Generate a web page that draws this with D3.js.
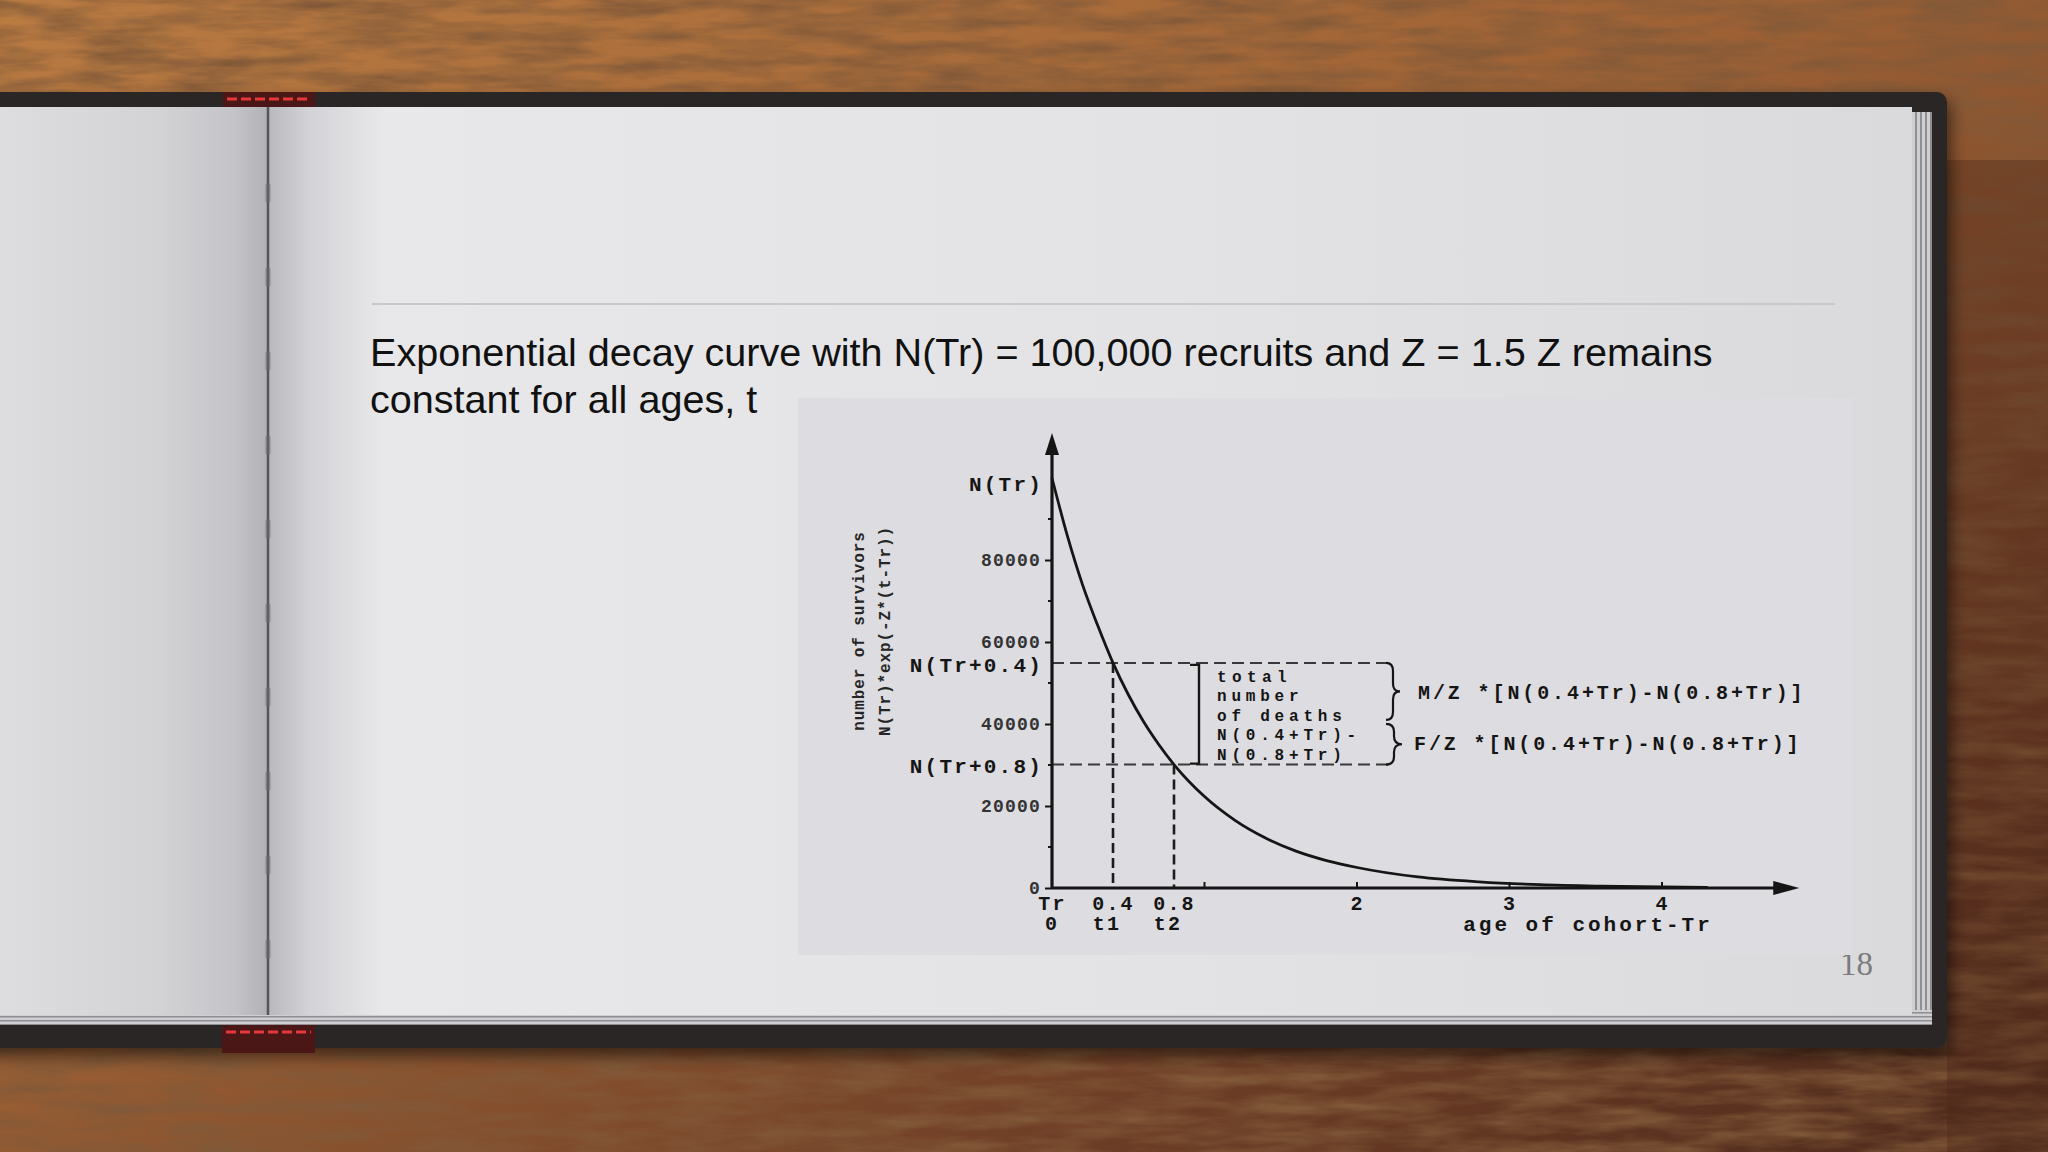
<!DOCTYPE html>
<html>
<head>
<meta charset="utf-8">
<script src="https://cdn.jsdelivr.net/npm/d3@7"></script>
<style>
  body { margin: 0; background: #6a4028; }
  svg { display: block; }
</style>
</head>
<body>
<script>
// Slide text
var titleLines = [
  "Exponential decay curve with N(Tr) = 100,000 recruits and Z = 1.5 Z remains",
  "constant for all ages, t"
];
var pageNumber = "18";

// Survivors curve, values
var ages = [0, 0.1, 0.2, 0.3, 0.4, 0.5, 0.6, 0.7, 0.8, 1.0, 1.2, 1.4, 1.6, 1.8, 2.0, 2.4, 2.8, 3.2, 3.6, 4.0, 4.3];
var survivors = [100000, 86000, 74000, 64000, 54900, 47200, 40600, 35000, 30100, 22300, 16500, 12200, 9000, 6700, 5000, 2700, 1500, 800, 450, 250, 170];

// Axis ticks
var yTickValues = [0, 20000, 40000, 60000, 80000];
var yMinorTicks = [10000, 30000, 50000, 70000, 90000];
var levelLabels = ["N(Tr)", "N(Tr+0.4)", "N(Tr+0.8)"];
var levelValues = [100000, 54900, 30100];
var xTickValues = [0, 0.4, 0.8, 2, 3, 4];
var xTickLabels = ["Tr", "0.4", "0.8", "2", "3", "4"];
var xSubLabels = ["0", "t1", "t2", "", "", ""];
var xMinorTicks = [1];
var cutAges = [0.4, 0.8];

// Annotation text
var yTitle = ["number of survivors", "N(Tr)*exp(-Z*(t-Tr))"];
var xTitle = "age of cohort-Tr";
var deathNotes = ["total", "number", "of deaths", "N(0.4+Tr)-", "N(0.8+Tr)"];
var partNotes = ["M/Z *[N(0.4+Tr)-N(0.8+Tr)]", "F/Z *[N(0.4+Tr)-N(0.8+Tr)]"];

var width = 2048, height = 1152;

var svg = d3.select("body").append("svg")
  .attr("width", width)
  .attr("height", height);

var defs = svg.append("defs");

// wood
var wood = defs.append("linearGradient").attr("id", "wood")
  .attr("x1", 0).attr("y1", 0).attr("x2", 1).attr("y2", 1);
wood.append("stop").attr("offset", "0%").attr("stop-color", "#bb7c42");
wood.append("stop").attr("offset", "45%").attr("stop-color", "#9c6034");
wood.append("stop").attr("offset", "75%").attr("stop-color", "#6e3e26");
wood.append("stop").attr("offset", "100%").attr("stop-color", "#4e2a1c");

var grain = defs.append("filter").attr("id", "grain")
  .attr("x", 0).attr("y", 0).attr("width", 1).attr("height", 1);
grain.append("feTurbulence")
  .attr("type", "fractalNoise")
  .attr("baseFrequency", "0.012 0.07")
  .attr("numOctaves", 4)
  .attr("seed", 7);
grain.append("feColorMatrix")
  .attr("type", "matrix")
  .attr("values", "0 0 0 0 0.22  0 0 0 0 0.10  0 0 0 0 0.04  0 0 0 -1.8 1.25");

var shadow = defs.append("filter").attr("id", "shadow")
  .attr("x", -0.05).attr("y", -0.05).attr("width", 1.1).attr("height", 1.15);
shadow.append("feDropShadow")
  .attr("dx", 4).attr("dy", 8).attr("stdDeviation", 8)
  .attr("flood-color", "#000").attr("flood-opacity", 0.55);

var leftPage = defs.append("linearGradient").attr("id", "leftPage");
leftPage.append("stop").attr("offset", "0%").attr("stop-color", "#dedee1");
leftPage.append("stop").attr("offset", "60%").attr("stop-color", "#d3d3d6");
leftPage.append("stop").attr("offset", "88%").attr("stop-color", "#c4c4c8");
leftPage.append("stop").attr("offset", "100%").attr("stop-color", "#b0b0b5");

var rightPage = defs.append("linearGradient").attr("id", "rightPage");
rightPage.append("stop").attr("offset", "0%").attr("stop-color", "#b8b8bd");
rightPage.append("stop").attr("offset", "2.5%").attr("stop-color", "#d3d3d7");
rightPage.append("stop").attr("offset", "7%").attr("stop-color", "#e8e8ea");
rightPage.append("stop").attr("offset", "55%").attr("stop-color", "#e3e3e5");
rightPage.append("stop").attr("offset", "100%").attr("stop-color", "#dadadd");

var edge = defs.append("pattern").attr("id", "edgeV")
  .attr("width", 5).attr("height", 10).attr("patternUnits", "userSpaceOnUse");
edge.append("rect").attr("width", 5).attr("height", 10).attr("fill", "#cfcfd2");
edge.append("rect").attr("width", 2).attr("height", 10).attr("fill", "#8e8e93");

var edgeH = defs.append("pattern").attr("id", "edgeH")
  .attr("width", 10).attr("height", 4).attr("patternUnits", "userSpaceOnUse");
edgeH.append("rect").attr("width", 10).attr("height", 4).attr("fill", "#cfcfd2");
edgeH.append("rect").attr("width", 10).attr("height", 1.5).attr("fill", "#8e8e93");

// background wood
svg.append("rect").attr("width", width).attr("height", height).attr("fill", "url(#wood)");
svg.append("rect").attr("width", width).attr("height", height).attr("filter", "url(#grain)");
svg.append("rect").attr("x", 1947).attr("y", 160).attr("width", 101).attr("height", 992)
  .attr("fill", "#4a2618").attr("opacity", 0.35);

// book cover
svg.append("rect")
  .attr("x", -20).attr("y", 92).attr("width", 1967).attr("height", 956)
  .attr("rx", 10)
  .attr("fill", "#2b2725")
  .attr("filter", "url(#shadow)");

// ribbons
[[223, 92, 92, 16], [222, 1025, 93, 28]].forEach(function (r) {
  svg.append("rect").attr("x", r[0]).attr("y", r[1]).attr("width", r[2]).attr("height", r[3])
    .attr("fill", "#4a1616");
  svg.append("line")
    .attr("x1", r[0] + 4).attr("x2", r[0] + r[2] - 4)
    .attr("y1", r[1] + 7).attr("y2", r[1] + 7)
    .attr("stroke", "#e8383a").attr("stroke-width", 3)
    .attr("stroke-dasharray", "10 4");
});

// page stack edges
svg.append("rect").attr("x", 1905).attr("y", 112).attr("width", 27).attr("height", 913)
  .attr("fill", "url(#edgeV)");
svg.append("rect").attr("x", -10).attr("y", 1010).attr("width", 1942).attr("height", 15)
  .attr("fill", "url(#edgeH)");

// pages
svg.append("rect").attr("x", -10).attr("y", 107).attr("width", 278).attr("height", 908)
  .attr("fill", "url(#leftPage)");
svg.append("rect").attr("x", 268).attr("y", 107).attr("width", 1644).attr("height", 908)
  .attr("fill", "url(#rightPage)");
svg.append("line").attr("x1", 268).attr("x2", 268).attr("y1", 107).attr("y2", 1015)
  .attr("stroke", "#56565b").attr("stroke-width", 2.5);
d3.range(183, 1000, 84).forEach(function (sy) {
  svg.append("rect").attr("x", 265.5).attr("y", sy).attr("width", 5).attr("height", 20)
    .attr("rx", 2.5).attr("fill", "#6b6b70").attr("opacity", 0.55);
});

// title
svg.append("line")
  .attr("x1", 372).attr("x2", 1835).attr("y1", 304).attr("y2", 304)
  .attr("stroke", "#c8c8cb").attr("stroke-width", 2);

svg.append("g").selectAll("text")
  .data(titleLines)
  .enter().append("text")
  .attr("x", 370)
  .attr("y", function (d, i) { return 366 + i * 47; })
  .attr("font-family", "'Liberation Sans', Arial, sans-serif")
  .attr("font-size", 39.6)
  .attr("fill", "#111")
  .text(function (d) { return d; });

svg.append("text")
  .attr("x", 1840).attr("y", 975)
  .attr("font-family", "'Liberation Serif', 'DejaVu Serif', serif")
  .attr("font-size", 33)
  .attr("fill", "#7b7b7e")
  .text(pageNumber);

// scanned figure panel
svg.append("rect")
  .attr("x", 798).attr("y", 398).attr("width", 1054).attr("height", 557)
  .attr("fill", "#dddce0");

var mono = "'Liberation Mono', 'DejaVu Sans Mono', monospace";
var ink = "#151515";

var x = d3.scaleLinear().domain([0, 4]).range([1052, 1662]);
var y = d3.scaleLinear().domain([0, 100000]).range([888, 478]);

var fig = svg.append("g");

// dashed guides
fig.selectAll(".hguide")
  .data(levelValues.slice(1))
  .enter().append("line")
  .attr("class", "hguide")
  .attr("x1", x(0)).attr("x2", 1388)
  .attr("y1", function (d) { return y(d); })
  .attr("y2", function (d) { return y(d); })
  .attr("stroke", "#3a3a3a").attr("stroke-width", 2)
  .attr("stroke-dasharray", "12 6");

fig.selectAll(".vguide")
  .data(cutAges)
  .enter().append("line")
  .attr("class", "vguide")
  .attr("x1", function (d) { return x(d); })
  .attr("x2", function (d) { return x(d); })
  .attr("y1", function (d, i) { return y(levelValues[i + 1]); })
  .attr("y2", y(0))
  .attr("stroke", "#1c1c1c").attr("stroke-width", 2.6)
  .attr("stroke-dasharray", "10 5");

// y axis
var yAxis = d3.axisLeft(y)
  .tickValues(yTickValues)
  .tickSize(7)
  .tickPadding(4)
  .tickFormat(function (d) { return String(d); });

var yG = fig.append("g")
  .attr("transform", "translate(" + x(0) + ",0)")
  .call(yAxis);
yG.select(".domain").remove();
yG.selectAll("line").attr("stroke", ink).attr("stroke-width", 2);
yG.selectAll("text")
  .attr("font-family", mono)
  .attr("font-size", 18)
  .attr("font-weight", "bold")
  .attr("letter-spacing", 1.2)
  .attr("fill", "#333");

fig.selectAll(".yminor")
  .data(yMinorTicks)
  .enter().append("line")
  .attr("class", "yminor")
  .attr("x1", x(0) - 4).attr("x2", x(0))
  .attr("y1", function (d) { return y(d); })
  .attr("y2", function (d) { return y(d); })
  .attr("stroke", ink).attr("stroke-width", 2);

fig.selectAll(".level")
  .data(levelLabels)
  .enter().append("text")
  .attr("class", "level")
  .attr("x", x(0) - 9)
  .attr("y", function (d, i) { return y(levelValues[i]) + (i === 0 ? 6 : 2); })
  .attr("dy", "0.32em")
  .attr("text-anchor", "end")
  .attr("font-family", mono)
  .attr("font-size", 21)
  .attr("font-weight", "bold")
  .attr("letter-spacing", 2.2)
  .attr("fill", ink)
  .text(function (d) { return d; });

// x axis
var xAxis = d3.axisBottom(x)
  .tickValues(xTickValues)
  .tickSize(0)
  .tickPadding(8)
  .tickFormat(function (d, i) { return xTickLabels[i]; });

var xG = fig.append("g")
  .attr("transform", "translate(0," + y(0) + ")")
  .call(xAxis);
xG.select(".domain").remove();
xG.selectAll("text")
  .attr("font-family", mono)
  .attr("font-size", 20)
  .attr("font-weight", "bold")
  .attr("letter-spacing", 2.2)
  .attr("fill", ink);

fig.selectAll(".xsub")
  .data(xSubLabels)
  .enter().append("text")
  .attr("class", "xsub")
  .attr("x", function (d, i) { return x(xTickValues[i]) + (i === 0 ? 0 : -6); })
  .attr("y", y(0) + 28)
  .attr("dy", "0.71em")
  .attr("text-anchor", "middle")
  .attr("font-family", mono)
  .attr("font-size", 20)
  .attr("font-weight", "bold")
  .attr("letter-spacing", 2.2)
  .attr("fill", ink)
  .text(function (d) { return d; });

fig.selectAll(".xminor")
  .data(xMinorTicks.concat(xTickValues.slice(3)))
  .enter().append("line")
  .attr("class", "xminor")
  .attr("x1", function (d) { return x(d); })
  .attr("x2", function (d) { return x(d); })
  .attr("y1", y(0)).attr("y2", y(0) - 6)
  .attr("stroke", ink).attr("stroke-width", 2);

fig.append("text")
  .attr("x", 1588).attr("y", y(0) + 28)
  .attr("dy", "0.71em")
  .attr("text-anchor", "middle")
  .attr("font-family", mono)
  .attr("font-size", 21)
  .attr("font-weight", "bold")
  .attr("letter-spacing", 3)
  .attr("fill", ink)
  .text(xTitle);

// axis lines with arrows
var yTop = y(111000), xEnd = x(4.9);
fig.append("line")
  .attr("x1", x(0)).attr("x2", x(0))
  .attr("y1", y(0)).attr("y2", yTop + 8)
  .attr("stroke", ink).attr("stroke-width", 3.2);
fig.append("path")
  .attr("d", "M" + x(0) + "," + yTop + "L" + (x(0) - 7) + "," + (yTop + 22) + "L" + (x(0) + 7) + "," + (yTop + 22) + "Z")
  .attr("fill", ink);
fig.append("line")
  .attr("x1", x(0)).attr("x2", xEnd - 8)
  .attr("y1", y(0)).attr("y2", y(0))
  .attr("stroke", ink).attr("stroke-width", 3.2);
fig.append("path")
  .attr("d", "M" + xEnd + "," + y(0) + "L" + (xEnd - 26) + "," + (y(0) - 7) + "L" + (xEnd - 26) + "," + (y(0) + 7) + "Z")
  .attr("fill", ink);

// y axis title
fig.selectAll(".ytitle")
  .data(yTitle)
  .enter().append("text")
  .attr("class", "ytitle")
  .attr("transform", function (d, i) { return "translate(" + (858 + i * 26) + ",631) rotate(-90)"; })
  .attr("dy", "0.35em")
  .attr("text-anchor", "middle")
  .attr("font-family", mono)
  .attr("font-size", 16)
  .attr("font-weight", "bold")
  .attr("letter-spacing", 0.9)
  .attr("fill", "#252525")
  .text(function (d) { return d; });

// survivors curve
var line = d3.line()
  .x(function (d, i) { return x(ages[i]); })
  .y(function (d) { return y(d); })
  .curve(d3.curveMonotoneX);

fig.append("path")
  .datum(survivors)
  .attr("d", line)
  .attr("fill", "none")
  .attr("stroke", ink)
  .attr("stroke-width", 2.8);

// deaths bracket and notes
var yA = y(levelValues[1]), yB = y(levelValues[2]);
var bx = 1199;
fig.append("path")
  .attr("d", "M" + (bx - 9) + "," + (yA + 2) + "L" + bx + "," + (yA + 2) + "L" + bx + "," + (yB - 1) + "L" + (bx - 9) + "," + (yB - 1))
  .attr("fill", "none").attr("stroke", ink).attr("stroke-width", 2.4);

var noteStep = (yB - yA - 24) / (deathNotes.length - 1);
fig.selectAll(".note")
  .data(deathNotes)
  .enter().append("text")
  .attr("class", "note")
  .attr("x", 1217)
  .attr("y", function (d, i) { return yA + 19 + i * noteStep; })
  .attr("font-family", mono)
  .attr("font-size", 16)
  .attr("font-weight", "bold")
  .attr("letter-spacing", function (d, i) { return i === 0 ? 5.4 : 4.8; })
  .attr("fill", ink)
  .text(function (d) { return d; });

function brace(x0, y0, y1, w) {
  var m = (y0 + y1) / 2, h = w / 2, r = Math.min(8, (y1 - y0) / 4);
  return "M" + x0 + "," + y0 +
    "Q" + (x0 + h) + "," + y0 + " " + (x0 + h) + "," + (y0 + r) +
    "L" + (x0 + h) + "," + (m - r) +
    "Q" + (x0 + h) + "," + m + " " + (x0 + w) + "," + m +
    "Q" + (x0 + h) + "," + m + " " + (x0 + h) + "," + (m + r) +
    "L" + (x0 + h) + "," + (y1 - r) +
    "Q" + (x0 + h) + "," + y1 + " " + x0 + "," + y1;
}
var ySplit = yA + (yB - yA) * 0.58;
fig.append("path").attr("d", brace(1386, yA, ySplit - 2, 14))
  .attr("fill", "none").attr("stroke", ink).attr("stroke-width", 2.2);
fig.append("path").attr("d", brace(1386, ySplit + 2, yB, 16))
  .attr("fill", "none").attr("stroke", ink).attr("stroke-width", 2.2);

fig.selectAll(".part")
  .data(partNotes)
  .enter().append("text")
  .attr("class", "part")
  .attr("x", function (d, i) { return i === 0 ? 1418 : 1414; })
  .attr("y", function (d, i) { return i === 0 ? (yA + ySplit) / 2 : (ySplit + yB) / 2; })
  .attr("dy", "0.35em")
  .attr("font-family", mono)
  .attr("font-size", 20)
  .attr("font-weight", "bold")
  .attr("letter-spacing", 2.9)
  .attr("fill", ink)
  .text(function (d) { return d; });
</script>
</body>
</html>
